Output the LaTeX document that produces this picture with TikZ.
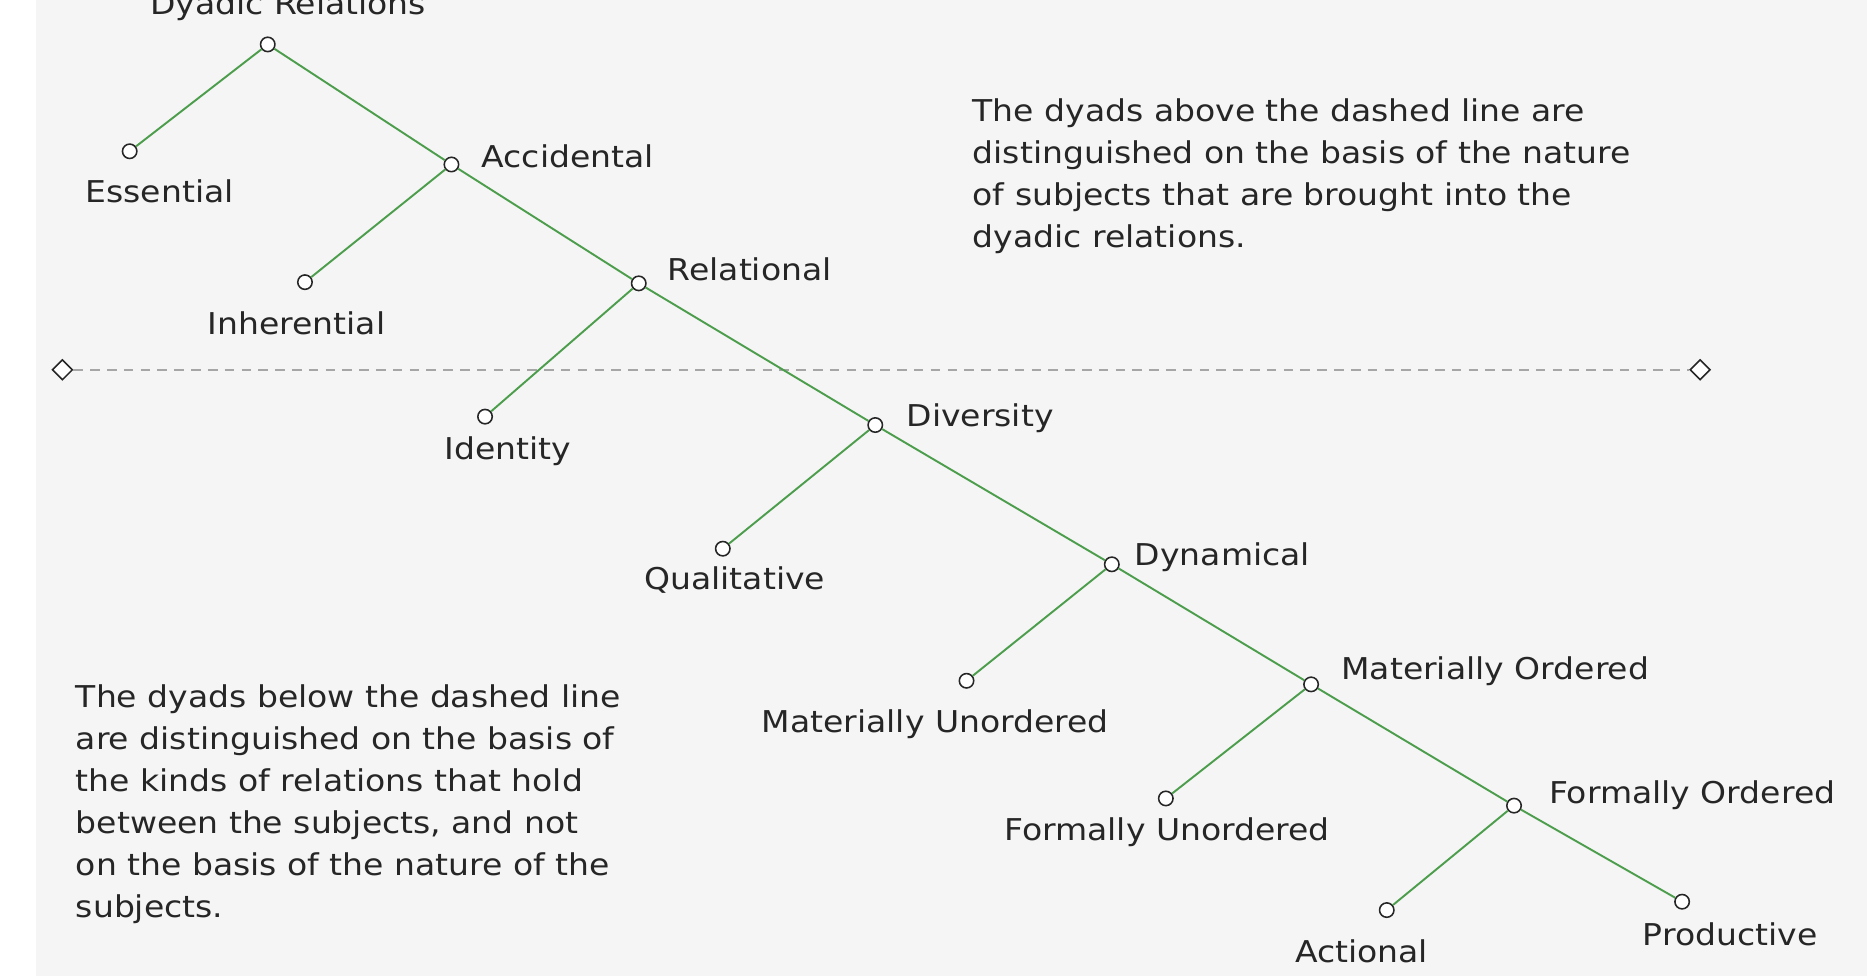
\documentclass[tikz,border=0pt]{standalone}
\usepackage{fontspec}
\setmainfont[FakeStretch=1.1]{DejaVu Sans}
\usetikzlibrary{shapes.geometric}
\begin{document}
\begin{tikzpicture}[x=1pt,y=-1pt,
  dot/.style={circle,draw=black!85,fill=white,line width=1.3pt,inner sep=0pt,minimum size=12pt},
  dia/.style={diamond,draw=black!85,fill=white,line width=1.3pt,inner sep=0pt,minimum size=17pt},
  edge/.style={draw=green!45!black!70,line width=1.6pt},
  lab/.style={font=\fontsize{25}{25}\selectfont,text=black!85,inner sep=0pt},
  para/.style={font=\fontsize{25}{35}\selectfont,text=black!85,align=left,anchor=north west,inner sep=0pt}]
\fill[white] (0,0) rectangle (1555,813);
\fill[black!4] (30,0) rectangle (1555,813);
\useasboundingbox (0,0) rectangle (1555,813);
% dashed line
\node[dia] (dl) at (52,308) {};
\node[dia] (dr) at (1416,308) {};
\draw[black!35,line width=1.2pt,dash pattern=on 8pt off 6pt] (dl) -- (dr);
% tree nodes
\node[dot] (root) at (223,37) {};
\node[dot] (ess) at (108,126) {};
\node[dot] (acc) at (376,137) {};
\node[dot] (inh) at (254,235) {};
\node[dot] (rel) at (532,236) {};
\node[dot] (ide) at (404,347) {};
\node[dot] (div) at (729,354) {};
\node[dot] (qua) at (602,457) {};
\node[dot] (dyn) at (926,470) {};
\node[dot] (mun) at (805,567) {};
\node[dot] (mor) at (1092,570) {};
\node[dot] (fun) at (971,665) {};
\node[dot] (for) at (1261,671) {};
\node[dot] (act) at (1155,758) {};
\node[dot] (pro) at (1401,751) {};
\foreach \a/\b in {root/ess,root/acc,acc/inh,acc/rel,rel/ide,rel/div,div/qua,div/dyn,dyn/mun,dyn/mor,mor/fun,mor/for,for/act,for/pro}
  \draw[edge] (\a) -- (\b);
% labels
\node[lab] (lroot) at (240,5) {Dyadic Relations};
\node[lab] (less) at (133,159) {Essential};
\node[lab,anchor=west] (lacc) at (401,130) {Accidental};
\node[lab] (linh) at (247,269) {Inherential};
\node[lab,anchor=west] (lrel) at (556,224) {Relational};
\node[lab] (lide) at (423,376) {Identity};
\node[lab,anchor=west] (ldiv) at (755,348) {Diversity};
\node[lab] (lqua) at (612,483) {Qualitative};
\node[lab,anchor=west] (ldyn) at (945,464) {Dynamical};
\node[lab] (lmun) at (779,603) {Materially Unordered};
\node[lab,anchor=west] (lmor) at (1117,559) {Materially Ordered};
\node[lab] (lfun) at (972,693) {Formally Unordered};
\node[lab,anchor=west] (lfor) at (1290,662) {Formally Ordered};
\node[lab] (lact) at (1134,792) {Actional};
\node[lab] (lpro) at (1441,778) {Productive};
% paragraphs
\node[para] (ptop) at (810,82) {The dyads above the dashed line are\\distinguished on the basis of the nature\\of subjects that are brought into the\\dyadic relations.};
\node[para] (pbot) at (63,570) {The dyads below the dashed line\\are distinguished on the basis of\\the kinds of relations that hold\\between the subjects, and not\\on the basis of the nature of the\\subjects.};
\end{tikzpicture}
\end{document}
